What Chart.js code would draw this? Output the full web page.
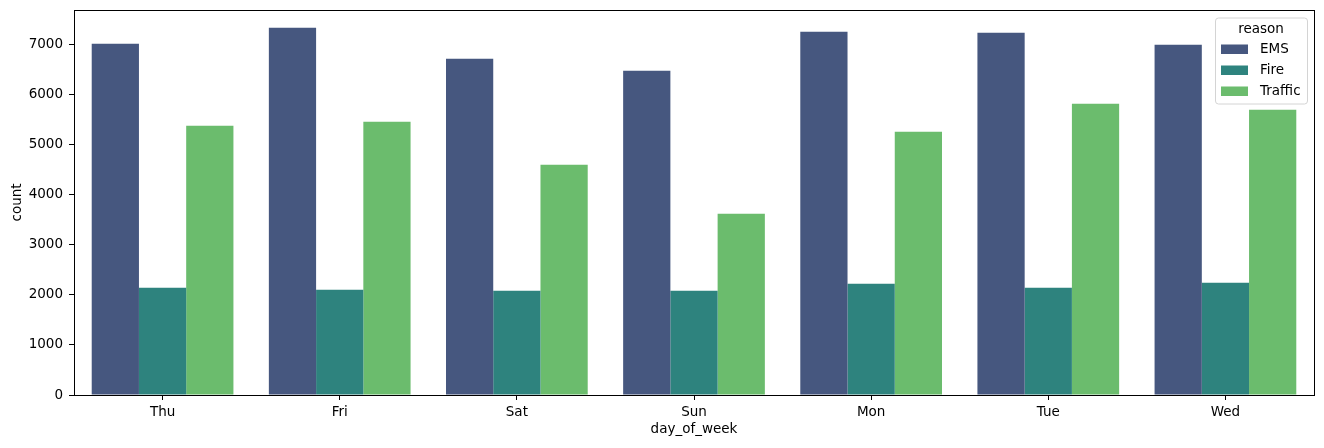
<!DOCTYPE html>
<html>
<head>
<meta charset="utf-8">
<script src="https://cdn.jsdelivr.net/npm/chart.js@4.4.1/dist/chart.umd.min.js"></script>
<style>
  html, body { margin: 0; padding: 0; background: #fff; }
  #wrap { width: 1324px; height: 448px; }
</style>
</head>
<body>
<div id="wrap"><canvas id="chart" width="1324" height="448"></canvas></div>
<script>
// day_of_week x reason call counts
const DAYS = ['Thu', 'Fri', 'Sat', 'Sun', 'Mon', 'Tue', 'Wed'];
const REASONS = ['EMS', 'Fire', 'Traffic'];
const EMS = [7006, 7326, 6707, 6468, 7246, 7226, 6987];
const FIRE = [2140, 2100, 2080, 2080, 2220, 2140, 2240];
const TRAFFIC = [5371, 5451, 4593, 3616, 5251, 5810, 5690];
const Y_TICKS = [0, 1000, 2000, 3000, 4000, 5000, 6000, 7000];
const COLORS = ['#46577f', '#2e837e', '#6bbc6d'];
const Y_MAX = 7680;

const FONT = 'DejaVu Sans';
const FS = 13.5;
Chart.defaults.font.family = FONT;
Chart.defaults.font.size = FS;
Chart.defaults.color = '#000';

// matplotlib-style box around the axes
const framePlugin = {
  id: 'frame',
  afterDraw(chart) {
    const { ctx, chartArea: a } = chart;
    ctx.save();
    ctx.strokeStyle = '#000';
    ctx.lineWidth = 1;
    ctx.strokeRect(Math.round(a.left) + 0.5, Math.round(a.top) + 0.5,
      Math.round(a.right - a.left), Math.round(a.bottom - a.top));
    ctx.restore();
  }
};

// legend with title, upper right inside the axes
const legendPlugin = {
  id: 'innerLegend',
  afterDraw(chart) {
    const { ctx, chartArea: a } = chart;
    const x0 = a.right - 99, y0 = a.top + 7.5, w = 92, h = 86;
    ctx.save();
    ctx.fillStyle = 'rgba(255,255,255,0.8)';
    ctx.strokeStyle = '#d4d4d4';
    ctx.lineWidth = 1;
    ctx.beginPath();
    ctx.roundRect(x0 + 0.5, y0 + 0.5, w, h, 3);
    ctx.fill();
    ctx.stroke();
    ctx.fillStyle = '#000';
    ctx.font = `${FS}px "${FONT}"`;
    ctx.textBaseline = 'middle';
    ctx.textAlign = 'center';
    ctx.fillText('reason', x0 + 46, y0 + 12);
    ctx.textAlign = 'left';
    chart.data.datasets.forEach((ds, i) => {
      const cy = y0 + 31.5 + i * 21;
      ctx.fillStyle = ds.backgroundColor;
      ctx.fillRect(x0 + 6, cy - 4.5, 27, 9.5);
      ctx.fillStyle = '#000';
      ctx.fillText(ds.label, x0 + 45, cy);
    });
    ctx.restore();
  }
};

const datasets = [EMS, FIRE, TRAFFIC].map((vals, i) => ({
  label: REASONS[i],
  data: vals,
  backgroundColor: COLORS[i],
  borderWidth: 0,
  categoryPercentage: 0.8,
  barPercentage: 1.0,
}));

new Chart(document.getElementById('chart'), {
  type: 'bar',
  data: { labels: DAYS, datasets },
  plugins: [framePlugin, legendPlugin],
  options: {
    responsive: false,
    animation: false,
    layout: { padding: { left: 0, right: 10, top: 10, bottom: 0 } },
    plugins: { legend: { display: false }, tooltip: { enabled: false } },
    scales: {
      x: {
        offset: true,
        grid: { offset: false, drawOnChartArea: false, drawTicks: true, tickLength: 5, tickColor: '#000' },
        border: { display: false },
        ticks: { padding: 4, color: '#000' },
        title: { display: true, text: 'day_of_week', color: '#000', padding: 10 },
        afterFit: (s) => { s.height = 53; s.paddingLeft = 0; s.paddingRight = 0; },
      },
      y: {
        min: 0,
        max: Y_MAX,
        afterBuildTicks: (s) => { s.ticks = Y_TICKS.map(v => ({ value: v })); },
        ticks: { autoSkip: false, padding: 6, color: '#000', callback: (v) => String(v) },
        grid: { drawOnChartArea: false, drawTicks: true, tickLength: 5, tickColor: '#000' },
        border: { display: false },
        title: { display: true, text: 'count', color: '#000', padding: 9 },
        afterFit: (s) => { s.width = 74; s.paddingTop = 0; s.paddingBottom = 0; },
      },
    },
  },
});
</script>
</body>
</html>
